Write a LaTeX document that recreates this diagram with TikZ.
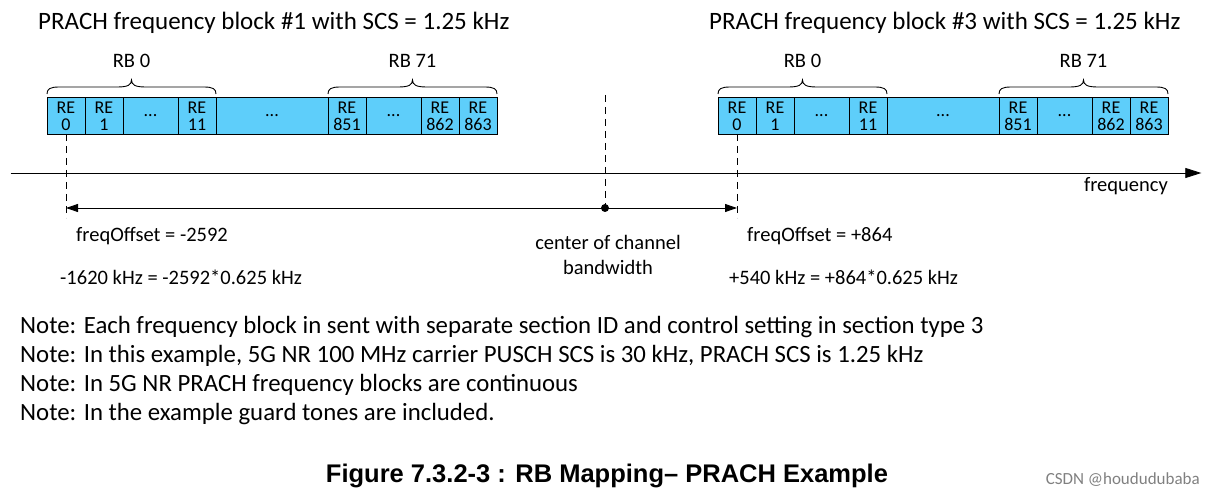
\documentclass[tikz,border=0pt]{standalone}
\usepackage{fontspec}
\setmainfont{Carlito}
\newfontfamily\arialf{Liberation Sans}
\usetikzlibrary{arrows.meta}
\begin{document}
\begin{tikzpicture}[x=1pt,y=-1pt,
  re/.style={font=\fontsize{18}{17}\selectfont,align=center,inner sep=0pt},
  brace/.style={draw,line width=0.9pt},
  lbl/.style={font=\fontsize{20.5}{25}\selectfont,inner sep=0pt},
  ttl/.style={font=\fontsize{25}{27}\selectfont,inner sep=0pt},
  note/.style={font=\fontsize{24.8}{27}\selectfont,inner sep=0pt,anchor=base west}]
\useasboundingbox (0,0) rectangle (1210,497);
\definecolor{cellc}{RGB}{94,206,250}
\foreach \o/\id in {0/1,671/3}{
  \begin{scope}[xshift=\o]
  \node[ttl,anchor=base west] (t\id) at (38,30) {PRACH frequency block \#\id\ with SCS = 1.25 kHz};
  \foreach \a/\b/\s [count=\i] in {47/85/{RE\\0},85/123/{RE\\1},123/178/{...},178/216/{RE\\11},216/328/{...},328/366/{RE\\851},366/421/{...},421/459/{RE\\862},459/497/{RE\\863}}{
    \fill[cellc] (\a,97) rectangle (\b,134);
    \draw[line width=0.6pt] (\a,97) rectangle (\b,134);
    \node[re] (c\id-\i) at ({(\a+\b)/2},116) {\s};
  }
  \foreach \l/\r in {47/216,328/497}{
    \draw[brace] (\l,94) .. controls (\l,89) and (\l+3,87) .. (\l+12,87)
      -- ({(\l+\r)/2-14},87) .. controls ({(\l+\r)/2-4},87) and ({(\l+\r)/2},85) .. ({(\l+\r)/2},80)
      .. controls ({(\l+\r)/2},85) and ({(\l+\r)/2+4},87) .. ({(\l+\r)/2+14},87)
      -- (\r-12,87) .. controls (\r-3,87) and (\r,89) .. (\r,94);
  }
  \node[lbl] (rb0-\id) at (131.5,61) {RB 0};
  \node[lbl] (rb71-\id) at (412.5,61) {RB 71};
  \coordinate (d\id) at (66,134);
  \end{scope}
}
\node[inner sep=0pt] (ax0) at (10,173) {};
\node[inner sep=0pt] (ax1) at (1202,173) {};
\draw[line width=0.8pt,-{Triangle[length=16pt,width=10pt]}] (ax0) -- (ax1);
\node[lbl,anchor=base east] (fq) at (1168,192) {frequency};
\coordinate (e1) at (66,218);
\coordinate (e3) at (737,218);
\draw[line width=0.8pt,dash pattern=on 7pt off 5pt] (d1) -- (e1);
\draw[line width=0.8pt,dash pattern=on 7pt off 5pt] (d3) -- (e3);
\coordinate (ctop) at (605,95);
\coordinate (cbot) at (605,212);
\draw[line width=0.8pt,dash pattern=on 7pt off 5pt] (ctop) -- (cbot);
\coordinate (a1) at (66,208);
\coordinate (a3) at (737,208);
\draw[line width=0.9pt,{Triangle[length=12pt,width=8pt]}-{Triangle[length=12pt,width=8pt]}] (a1) -- (a3);
\fill (605,208) circle (4pt);
\node[lbl,anchor=base west] (f1) at (76,241) {freqOffset = -2592};
\node[lbl,anchor=base west] (f3) at (747,241) {freqOffset = +864};
\node[lbl,align=center,anchor=north] (cc) at (608,235) {center of channel\\bandwidth};
\node[lbl,anchor=base west] (k1) at (60,284) {-1620 kHz = -2592*0.625 kHz};
\node[lbl,anchor=base west] (k3) at (729,284) {+540 kHz = +864*0.625 kHz};
\node[note] (n1) at (20,333) {Note: Each frequency block in sent with separate section ID and control setting in section type 3};
\node[note] (n2) at (20,362) {Note: In this example, 5G NR 100 MHz carrier PUSCH SCS is 30 kHz, PRACH SCS is 1.25 kHz};
\node[note] (n3) at (20,391) {Note: In 5G NR PRACH frequency blocks are continuous};
\node[note] (n4) at (20,420) {Note: In the example guard tones are included.};
\node[font=\arialf\bfseries\fontsize{25.5}{27}\selectfont,inner sep=0pt,anchor=base] (cap) at (607,482) {Figure 7.3.2-3 : RB Mapping– PRACH Example};
\node[font=\fontsize{17}{18}\selectfont,text=gray,anchor=base east,inner sep=0pt] (wm) at (1200,484) {CSDN @hoududubaba};
\end{tikzpicture}
\end{document}
